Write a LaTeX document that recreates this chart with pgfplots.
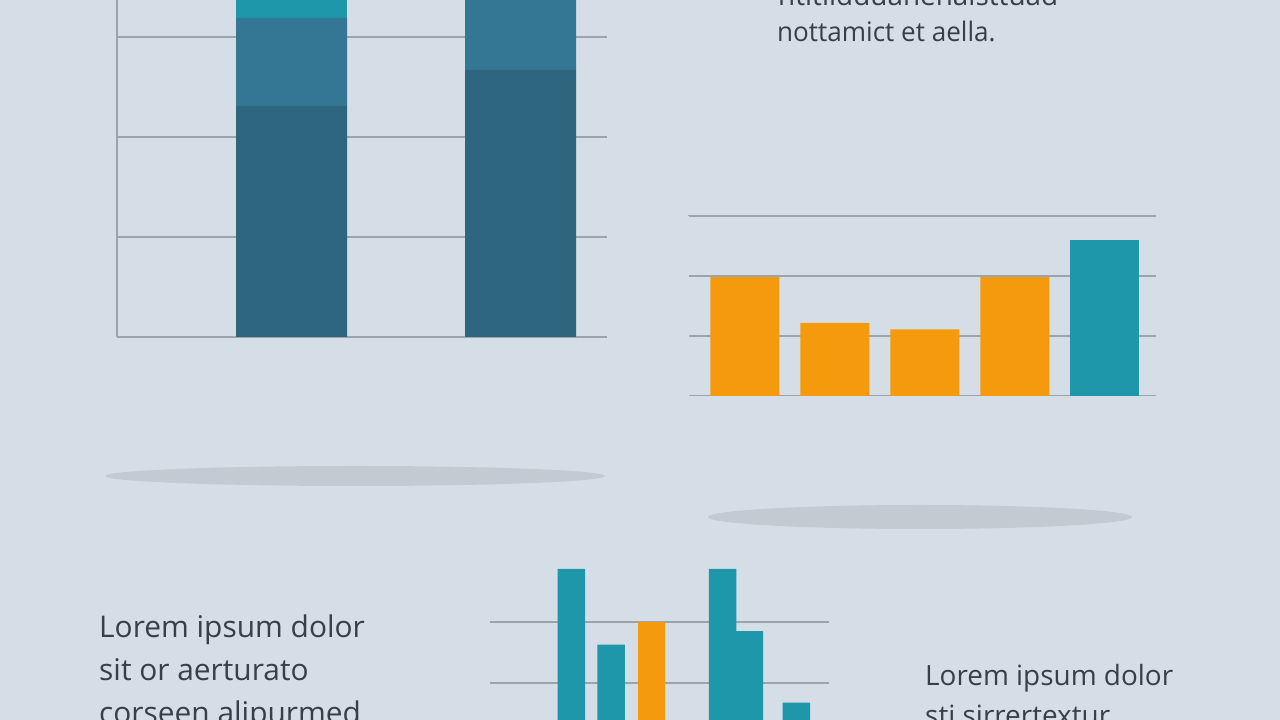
\documentclass[border=0pt]{standalone}
\usepackage{pgfplots}
\pgfplotsset{compat=1.18}
\usepackage{fontspec}
\setmainfont{Open Sans}
\definecolor{bg}{HTML}{D5DEE6}
\definecolor{gridc}{HTML}{9BA3AB}
\definecolor{dk}{HTML}{2F667F}
\definecolor{md}{HTML}{347794}
\definecolor{tl}{HTML}{1F97AA}
\definecolor{og}{HTML}{F59A0C}
\definecolor{txt}{HTML}{383F48}
\definecolor{shd}{HTML}{C3CAD1}
\begin{document}
\begin{tikzpicture}[x=1bp,y=1bp]
\fill[bg] (0,0) rectangle (1280,720);
\fill[shd] (355,244) ellipse [x radius=250, y radius=10];
\fill[shd] (920,203) ellipse [x radius=212, y radius=12];

% top-left stacked chart
\begin{scope}[shift={(117,383)}]
\begin{axis}[scale only axis,
  width=490bp, height=337bp,
  xmin=0, xmax=490, ymin=0, ymax=3.37,
  ybar stacked, bar width=111,
  xtick=\empty, ytick={0,1,2,3}, yticklabels={}, major tick length=0,
  ymajorgrids, grid style={gridc, line width=1.8bp},
  axis x line*=bottom, axis y line*=left,
  axis line style={gridc, line width=1.8bp}]
\addplot[fill=dk, draw=none] coordinates {(174.5,2.31) (403.5,2.67)};
\addplot[fill=md, draw=none] coordinates {(174.5,0.88) (403.5,0.90)};
\addplot[fill=tl, draw=none] coordinates {(174.5,0.40) (403.5,0)};
\end{axis}
\end{scope}

% top-right chart
\begin{scope}[shift={(688,324)}]
\begin{axis}[scale only axis,
  width=468bp, height=180bp,
  xmin=-0.633, xmax=4.567, ymin=0, ymax=3,
  ybar stacked, bar width=0.767,
  xtick=\empty, ytick={0,1,2,3}, yticklabels={}, major tick length=0,
  ymajorgrids, grid style={gridc, line width=1.8bp},
  axis x line*=bottom, axis y line*=left,
  axis line style={bg}]
\addplot[fill=og, draw=none] coordinates {(0,1.98) (1,1.22) (2,1.11) (3,1.98) (4,0)};
\addplot[fill=tl, draw=none] coordinates {(0,0) (1,0) (2,0) (3,0) (4,2.60)};
\end{axis}
\end{scope}

% bottom chart
\begin{scope}[shift={(489,-24)}]
\begin{axis}[scale only axis,
  width=340bp, height=183bp,
  xmin=0, xmax=340, ymin=0, ymax=3,
  ybar stacked, bar width=27.5,
  xtick=\empty, ytick={0,1,2}, yticklabels={}, major tick length=0,
  ymajorgrids, grid style={gridc, line width=1.8bp},
  axis x line*=bottom, axis y line*=left,
  axis line style={bg}]
\addplot[fill=tl, draw=none] coordinates {(82.3,2.87) (122,1.63) (162.7,0) (233.7,2.87) (260.3,1.85) (307.3,0.68)};
\addplot[fill=og, draw=none] coordinates {(82.3,0) (122,0) (162.7,2.00) (233.7,0) (260.3,0) (307.3,0)};
\end{axis}
\end{scope}

% texts
\begin{scope}[every node/.style={anchor=base west, inner sep=0pt, text=txt}]
\node[font=\fontsize{28}{34}\selectfont] at (778,714) {ntitiidduahenaisttuad};
\node[font=\fontsize{27}{34}\selectfont] at (777,678) {\scalebox{0.97}[1]{nottamict et aella.}};
\node[font=\fontsize{30}{36}\selectfont] at (99,82) {Lorem ipsum dolor};
\node[font=\fontsize{30}{36}\selectfont] at (99,39) {sit or aerturato};
\node[font=\fontsize{30}{36}\selectfont] at (99,-4) {corseen alipurmed};
\node[font=\fontsize{28}{34}\selectfont] at (925,34) {Lorem ipsum dolor};
\node[font=\fontsize{28}{34}\selectfont] at (925,-6) {sti sirrertextur};
\end{scope}
\pgfresetboundingbox
\useasboundingbox (0,0) rectangle (1280,720);
\end{tikzpicture}
\end{document}
